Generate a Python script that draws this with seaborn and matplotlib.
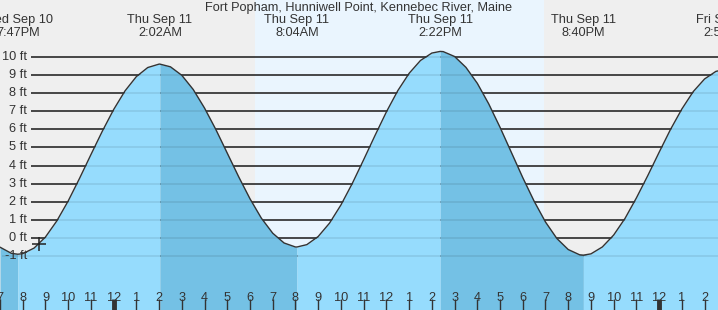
import numpy as np
import pandas as pd
import seaborn as sns
import matplotlib.pyplot as plt
import matplotlib.transforms as mtransforms

# hours since midnight, Thu Sep 11
times = [-5.0, -4.5, -4.0, -3.5, -3.0, -2.5, -2.0, -1.5, -1.0, -0.5,
         0.0, 0.5, 1.0, 1.5, 2.0, 2.5, 3.0, 3.5, 4.0, 4.5,
         5.0, 5.5, 6.0, 6.5, 7.0, 7.5, 8.0, 8.5, 9.0, 9.5,
         10.0, 10.5, 11.0, 11.5, 12.0, 12.5, 13.0, 13.5, 14.0, 14.5,
         15.0, 15.5, 16.0, 16.5, 17.0, 17.5, 18.0, 18.5, 19.0, 19.5,
         20.0, 20.5, 21.0, 21.5, 22.0, 22.5, 23.0, 23.5, 24.0, 24.5,
         25.0, 25.5, 26.0, 26.5, 27.0]
heights = [-0.51, -0.85, -0.87, -0.56, 0.05, 0.94, 2.04, 3.29, 4.60, 5.89,
           7.09, 8.12, 8.91, 9.41, 9.60, 9.45, 8.98, 8.20, 7.17, 5.98,
           4.68, 3.38, 2.16, 1.09, 0.26, -0.28, -0.50, -0.37, 0.08, 0.82,
           1.82, 3.01, 4.32, 5.66, 6.96, 8.13, 9.09, 9.80, 10.21, 10.29,
           10.02, 9.42, 8.54, 7.41, 6.11, 4.72, 3.33, 2.03, 0.88, -0.03,
           -0.64, -0.93, -0.88, -0.50, 0.16, 1.08, 2.21, 3.44, 4.73, 5.99,
           7.12, 8.08, 8.78, 9.20, 9.29]

# high / low tides
event_times = [-4.217, 2.033, 8.067, 14.367, 20.667, 26.9]
event_heights = [-0.9, 9.6, -0.5, 10.3, -0.95, 9.3]
event_labels = ["Wed Sep 10\n7:47PM", "Thu Sep 11\n2:02AM", "Thu Sep 11\n8:04AM",
                "Thu Sep 11\n2:22PM", "Thu Sep 11\n8:40PM", "Fri Sep 12\n2:54AM"]

sunrise, sunset = 6.22, 18.92
now_time, now_height = -3.28, -0.35
ft_levels = list(range(-1, 11))
hour_ticks = list(range(-5, 27))
title = "Fort Popham, Hunniwell Point, Kennebec River, Maine"

sns.set_style("white")
plt.rcParams['font.family'] = ['Liberation Sans', 'DejaVu Sans']
txt = '#333333'
fs = 9.2

df = pd.concat([pd.DataFrame({'t': times, 'h': heights}),
                pd.DataFrame({'t': event_times, 'h': event_heights})])
df = df.sort_values('t').reset_index(drop=True)

fig = plt.figure(figsize=(7.18, 3.10), dpi=100)
ax = fig.add_axes([0, 0, 1, 1])
xmin, xmax = -4.9, 26.59
ymin, ymax = -3.98, 13.14
ax.set_xlim(xmin, xmax)
ax.set_ylim(ymin, ymax)
ax.set_facecolor('#efefef')
ax.axvspan(sunrise, sunset, color='#eaf5fe', lw=0, zorder=0)
for s in ax.spines.values():
    s.set_visible(False)

# grid lines with labels at the left
line_x0 = xmin + (xmax - xmin) * 29 / 718
ax.hlines(ft_levels, line_x0, xmax, color='#2a2a2a', lw=1.2, zorder=1)
lab_tr = mtransforms.blended_transform_factory(ax.transAxes, ax.transData)
for v in ft_levels:
    ax.text(27 / 718, v, f"{v} ft", transform=lab_tr, ha='right', va='center',
            fontsize=fs, color=txt, zorder=6)

# water: light when rising, darker when falling
bounds = [-99] + event_times + [99]
for i in range(len(bounds) - 1):
    seg = df[(df['t'] >= bounds[i]) & (df['t'] <= bounds[i + 1])]
    if len(seg) < 2:
        continue
    rising = seg['h'].iloc[-1] > seg['h'].iloc[0]
    ax.fill_between(seg['t'], seg['h'], ymin, color='#96dcfd' if rising else '#74c1e5',
                    lw=0, zorder=2)

area = ax.fill_between(df['t'], df['h'], ymin, color='none', lw=0)
inner = ax.hlines(ft_levels, xmin, xmax, color=(0, 0, 0, 0.09), lw=1.2, zorder=3)
inner.set_clip_path(area.get_paths()[0], ax.transData)

sns.lineplot(data=df, x='t', y='h', ax=ax, color='#333333', lw=1.0, zorder=4,
             sort=True, estimator=None)
ax.plot([now_time], [now_height], marker='+', ms=10, mew=1.1, color='#222222', zorder=5)

# header
ax.text(0.5, 1 - 8 / 310, title, transform=ax.transAxes, ha='center', va='center',
        fontsize=fs, color=txt)
top_tr = mtransforms.blended_transform_factory(ax.transData, ax.transAxes)
for t, lab in zip(event_times, event_labels):
    l1, l2 = lab.split("\n")
    ax.text(t, 1 - 20 / 310, l1, transform=top_tr, ha='center', va='center',
            fontsize=fs, color=txt, clip_on=False)
    ax.text(t, 1 - 33 / 310, l2, transform=top_tr, ha='center', va='center',
            fontsize=fs, color=txt, clip_on=False)

# hour ticks at the bottom
ax.set_xticks(hour_ticks)
ax.set_xticklabels([str(h % 12 or 12) for h in hour_ticks])
ax.set_yticks([])
ax.set_xlabel('')
ax.set_ylabel('')
ax.xaxis.set_zorder(10)
ax.tick_params(axis='x', direction='in', length=8, width=1, color='#333333',
               labelcolor=txt, labelsize=fs, pad=-13, bottom=True)
for h, tk in zip(hour_ticks, ax.xaxis.get_major_ticks()):
    if h % 24 == 0:
        tk.tick1line.set_markeredgewidth(3.5)

fig.savefig('out.png', dpi=100)
